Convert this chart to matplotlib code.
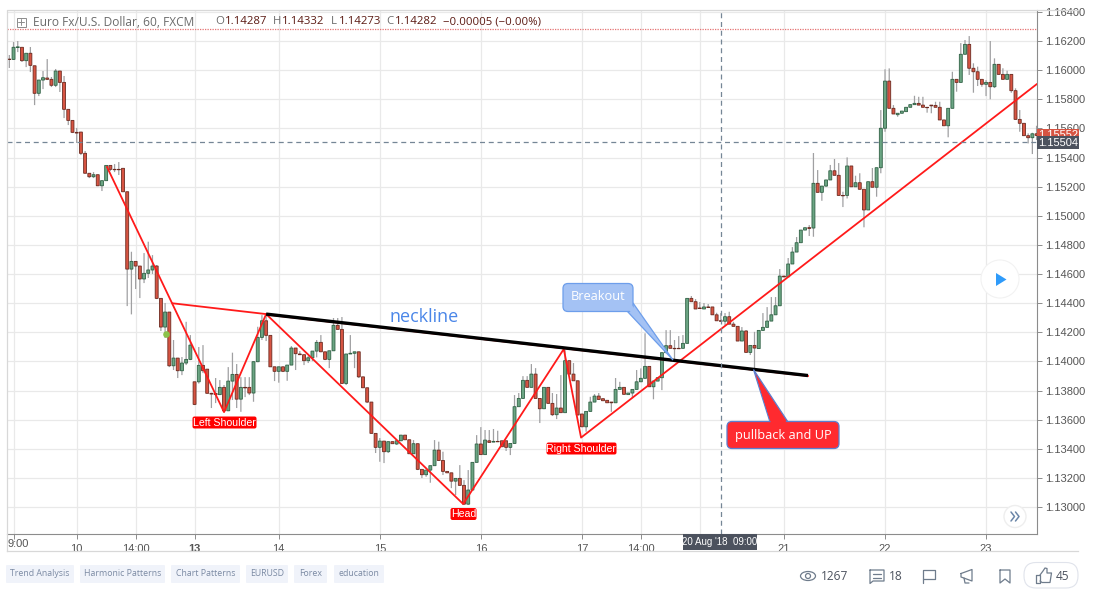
import matplotlib
matplotlib.use("Agg")
import matplotlib.pyplot as plt
from matplotlib.patches import FancyBboxPatch, Polygon, Circle, Rectangle, Ellipse

plt.rcParams['font.family'] = ['Liberation Sans', 'DejaVu Sans']

# hourly candles
opens = [1.16076, 1.16074, 1.16155, 1.16157, 1.16065, 1.16116, 1.16030, 1.15841, 1.15932, 1.15946,
         1.15937, 1.15896, 1.15994, 1.15916, 1.15731, 1.15655, 1.15573, 1.15575, 1.15429, 1.15292,
         1.15268, 1.15282, 1.15206, 1.15241, 1.15346, 1.15319, 1.15319, 1.15326, 1.15165, 1.14634,
         1.14687, 1.14655, 1.14566, 1.14605, 1.14628, 1.14655, 1.14433, 1.14236, 1.14339, 1.13970,
         1.14023, 1.13936, 1.13989, 1.14014, 1.13860, 1.13860, 1.13973, 1.13947, 1.13781, 1.13780,
         1.13772, 1.13822, 1.13661, 1.13865, 1.13911, 1.13741, 1.13822, 1.13822, 1.13783, 1.13998,
         1.14165, 1.14279, 1.14179, 1.13963, 1.13932, 1.13963, 1.13932, 1.13975, 1.14092, 1.14051,
         1.14046, 1.14005, 1.14025, 1.14071, 1.14131, 1.14066, 1.14014, 1.14073, 1.14248, 1.14220,
         1.13849, 1.14051, 1.14056, 1.14066, 1.13894, 1.13819, 1.13721, 1.13506, 1.13410, 1.13453,
         1.13380, 1.13449, 1.13433, 1.13455, 1.13494, 1.13462, 1.13366, 1.13435, 1.13259, 1.13222,
         1.13254, 1.13284, 1.13391, 1.13320, 1.13245, 1.13235, 1.13178, 1.13197, 1.13149, 1.13020,
         1.13117, 1.13307, 1.13433, 1.13360, 1.13455, 1.13446, 1.13451, 1.13455, 1.13455, 1.13410,
         1.13437, 1.13689, 1.13746, 1.13870, 1.13822, 1.13913, 1.13746, 1.13675, 1.13822, 1.13712,
         1.13634, 1.13680, 1.13648, 1.14005, 1.13913, 1.13867, 1.13639, 1.13551, 1.13657, 1.13721,
         1.13762, 1.13744, 1.13733, 1.13721, 1.13716, 1.13808, 1.13822, 1.13772, 1.13783, 1.13808,
         1.13860, 1.13884, 1.13966, 1.13826, 1.13865, 1.13888, 1.14060, 1.14108, 1.14090, 1.14090,
         1.14090, 1.14124, 1.14433, 1.14410, 1.14367, 1.14360, 1.14374, 1.14374, 1.14320, 1.14279,
         1.14276, 1.14307, 1.14256, 1.14241, 1.14140, 1.14209, 1.14062, 1.14110, 1.14088, 1.14213,
         1.14234, 1.14277, 1.14320, 1.14382, 1.14586, 1.14581, 1.14669, 1.14751, 1.14815, 1.14902,
         1.14918, 1.14916, 1.15223, 1.15161, 1.15204, 1.15246, 1.15309, 1.15278, 1.15140, 1.15140,
         1.15342, 1.15199, 1.15227, 1.15182, 1.15040, 1.15234, 1.15196, 1.15330, 1.15601, 1.15925,
         1.15738, 1.15694, 1.15704, 1.15715, 1.15745, 1.15763, 1.15772, 1.15760, 1.15745, 1.15760,
         1.15758, 1.15745, 1.15658, 1.15618, 1.15738, 1.15937, 1.15916, 1.16109, 1.16177, 1.16013,
         1.15989, 1.15937, 1.15903, 1.15916, 1.15886, 1.16040, 1.15971, 1.15937, 1.15971, 1.15859,
         1.15662, 1.15635, 1.15550, 1.15536, 1.15563]
highs = [1.16104, 1.16193, 1.16200, 1.16157, 1.16116, 1.16159, 1.16030, 1.15932, 1.15994, 1.16076,
         1.15953, 1.16008, 1.15994, 1.15960, 1.15731, 1.15655, 1.15603, 1.15575, 1.15445, 1.15292,
         1.15300, 1.15282, 1.15241, 1.15346, 1.15346, 1.15355, 1.15369, 1.15326, 1.15165, 1.14753,
         1.14687, 1.14655, 1.14744, 1.14822, 1.14730, 1.14662, 1.14433, 1.14401, 1.14339, 1.14147,
         1.14023, 1.14030, 1.14272, 1.14181, 1.13860, 1.14099, 1.14112, 1.13947, 1.13785, 1.13886,
         1.13872, 1.13838, 1.13961, 1.14060, 1.13982, 1.13892, 1.13892, 1.13892, 1.14002, 1.14238,
         1.14318, 1.14332, 1.14179, 1.13963, 1.13963, 1.13963, 1.13975, 1.14105, 1.14092, 1.14071,
         1.14046, 1.14037, 1.14071, 1.14147, 1.14181, 1.14066, 1.14073, 1.14298, 1.14298, 1.14305,
         1.14051, 1.14181, 1.14066, 1.14066, 1.13894, 1.13819, 1.13721, 1.13506, 1.13474, 1.13453,
         1.13449, 1.13449, 1.13455, 1.13494, 1.13494, 1.13462, 1.13460, 1.13435, 1.13259, 1.13254,
         1.13284, 1.13460, 1.13449, 1.13380, 1.13245, 1.13235, 1.13197, 1.13288, 1.13185, 1.13254,
         1.13307, 1.13494, 1.13549, 1.13529, 1.13529, 1.13536, 1.13524, 1.13455, 1.13455, 1.13437,
         1.13769, 1.13783, 1.13899, 1.13899, 1.13982, 1.13954, 1.13746, 1.13822, 1.13822, 1.13783,
         1.13776, 1.13906, 1.14078, 1.14005, 1.13989, 1.13867, 1.13639, 1.13657, 1.13757, 1.13776,
         1.13783, 1.13744, 1.13733, 1.13721, 1.13886, 1.13860, 1.13822, 1.13783, 1.13808, 1.13941,
         1.13952, 1.14193, 1.13966, 1.13865, 1.13888, 1.14060, 1.14215, 1.14215, 1.14147, 1.14174,
         1.14181, 1.14433, 1.14449, 1.14428, 1.14408, 1.14401, 1.14394, 1.14374, 1.14334, 1.14332,
         1.14332, 1.14341, 1.14272, 1.14241, 1.14236, 1.14215, 1.14110, 1.14203, 1.14213, 1.14332,
         1.14373, 1.14442, 1.14442, 1.14634, 1.14586, 1.14710, 1.14785, 1.14854, 1.14902, 1.14918,
         1.14936, 1.15431, 1.15314, 1.15204, 1.15246, 1.15349, 1.15390, 1.15362, 1.15165, 1.15401,
         1.15342, 1.15275, 1.15292, 1.15182, 1.15234, 1.15328, 1.15330, 1.15726, 1.16006, 1.16012,
         1.15760, 1.15704, 1.15719, 1.15745, 1.15763, 1.15824, 1.15817, 1.15817, 1.15745, 1.15760,
         1.15783, 1.15783, 1.15658, 1.15738, 1.15989, 1.15937, 1.16186, 1.16207, 1.16234, 1.16047,
         1.16024, 1.15937, 1.15932, 1.16200, 1.16081, 1.16040, 1.16013, 1.15996, 1.15971, 1.15875,
         1.15726, 1.15635, 1.15566, 1.15570, 1.15618]
lows = [1.16015, 1.16070, 1.16124, 1.16056, 1.16021, 1.15987, 1.15760, 1.15822, 1.15870, 1.15932,
        1.15884, 1.15884, 1.15850, 1.15671, 1.15623, 1.15568, 1.15500, 1.15417, 1.15292, 1.15259,
        1.15259, 1.15204, 1.15170, 1.15241, 1.15307, 1.15300, 1.15280, 1.15163, 1.14380, 1.14323,
        1.14497, 1.14435, 1.14538, 1.14573, 1.14600, 1.14428, 1.14209, 1.14161, 1.13961, 1.13941,
        1.13886, 1.13906, 1.13975, 1.14009, 1.13700, 1.13848, 1.13920, 1.13781, 1.13680, 1.13714,
        1.13769, 1.13652, 1.13659, 1.13735, 1.13680, 1.13654, 1.13755, 1.13769, 1.13723, 1.13995,
        1.14147, 1.14140, 1.13963, 1.13865, 1.13854, 1.13927, 1.13867, 1.13975, 1.13941, 1.14046,
        1.13975, 1.13989, 1.14002, 1.14028, 1.14066, 1.14009, 1.13954, 1.14073, 1.14220, 1.13849,
        1.13838, 1.14051, 1.13954, 1.13886, 1.13819, 1.13714, 1.13506, 1.13371, 1.13311, 1.13302,
        1.13371, 1.13435, 1.13426, 1.13455, 1.13462, 1.13366, 1.13366, 1.13254, 1.13199, 1.13208,
        1.13167, 1.13284, 1.13320, 1.13220, 1.13235, 1.13130, 1.13082, 1.13149, 1.13014, 1.13014,
        1.13117, 1.13307, 1.13360, 1.13360, 1.13444, 1.13446, 1.13448, 1.13414, 1.13385, 1.13357,
        1.13437, 1.13689, 1.13746, 1.13822, 1.13822, 1.13746, 1.13577, 1.13675, 1.13712, 1.13625,
        1.13604, 1.13648, 1.13648, 1.13913, 1.13867, 1.13632, 1.13551, 1.13517, 1.13657, 1.13721,
        1.13739, 1.13730, 1.13716, 1.13654, 1.13716, 1.13808, 1.13774, 1.13772, 1.13748, 1.13808,
        1.13860, 1.13884, 1.13826, 1.13740, 1.13865, 1.13803, 1.14060, 1.14090, 1.14009, 1.14087,
        1.14090, 1.14124, 1.14410, 1.14360, 1.14363, 1.14360, 1.14371, 1.14320, 1.14279, 1.14276,
        1.14250, 1.14256, 1.14241, 1.14140, 1.14140, 1.14062, 1.14044, 1.13947, 1.14088, 1.14213,
        1.14234, 1.14277, 1.14320, 1.14382, 1.14580, 1.14581, 1.14669, 1.14751, 1.14815, 1.14902,
        1.14861, 1.14856, 1.15161, 1.15103, 1.15199, 1.15246, 1.15278, 1.15140, 1.15060, 1.15119,
        1.15199, 1.15199, 1.15182, 1.14921, 1.15040, 1.15196, 1.15131, 1.15292, 1.15577, 1.15738,
        1.15699, 1.15680, 1.15704, 1.15715, 1.15745, 1.15763, 1.15760, 1.15745, 1.15708, 1.15704,
        1.15745, 1.15658, 1.15618, 1.15539, 1.15738, 1.15852, 1.15916, 1.16109, 1.15967, 1.15845,
        1.15891, 1.15886, 1.15822, 1.15800, 1.15877, 1.15971, 1.15937, 1.15937, 1.15845, 1.15662,
        1.15577, 1.15550, 1.15497, 1.15424, 1.15520]
closes = [1.16073, 1.16157, 1.16160, 1.16065, 1.16116, 1.16033, 1.15841, 1.15932, 1.15948, 1.15937,
          1.15896, 1.15994, 1.15916, 1.15731, 1.15655, 1.15573, 1.15568, 1.15429, 1.15292, 1.15268,
          1.15282, 1.15206, 1.15241, 1.15346, 1.15319, 1.15316, 1.15316, 1.15165, 1.14634, 1.14687,
          1.14655, 1.14566, 1.14605, 1.14628, 1.14655, 1.14433, 1.14236, 1.14339, 1.13970, 1.14023,
          1.13936, 1.13989, 1.14014, 1.14112, 1.13705, 1.13973, 1.13936, 1.13781, 1.13776, 1.13772,
          1.13822, 1.13661, 1.13865, 1.13911, 1.13741, 1.13822, 1.13818, 1.13783, 1.13998, 1.14165,
          1.14279, 1.14179, 1.13963, 1.13932, 1.13963, 1.13932, 1.13975, 1.14092, 1.14053, 1.14046,
          1.14005, 1.14025, 1.14071, 1.14131, 1.14066, 1.14014, 1.14073, 1.14248, 1.14220, 1.13849,
          1.14051, 1.14056, 1.14066, 1.13894, 1.13819, 1.13721, 1.13506, 1.13410, 1.13453, 1.13380,
          1.13449, 1.13435, 1.13455, 1.13494, 1.13462, 1.13366, 1.13435, 1.13259, 1.13222, 1.13254,
          1.13284, 1.13391, 1.13320, 1.13245, 1.13235, 1.13178, 1.13197, 1.13149, 1.13020, 1.13117,
          1.13307, 1.13433, 1.13360, 1.13460, 1.13444, 1.13451, 1.13448, 1.13414, 1.13410, 1.13437,
          1.13689, 1.13746, 1.13870, 1.13822, 1.13913, 1.13746, 1.13675, 1.13822, 1.13712, 1.13634,
          1.13680, 1.13648, 1.14005, 1.13913, 1.13867, 1.13632, 1.13551, 1.13657, 1.13721, 1.13762,
          1.13739, 1.13730, 1.13716, 1.13716, 1.13808, 1.13822, 1.13774, 1.13783, 1.13808, 1.13860,
          1.13884, 1.13966, 1.13826, 1.13865, 1.13888, 1.14060, 1.14108, 1.14090, 1.14087, 1.14087,
          1.14124, 1.14433, 1.14410, 1.14360, 1.14363, 1.14374, 1.14371, 1.14320, 1.14279, 1.14276,
          1.14307, 1.14256, 1.14241, 1.14140, 1.14209, 1.14062, 1.14110, 1.14092, 1.14213, 1.14234,
          1.14277, 1.14320, 1.14382, 1.14586, 1.14580, 1.14669, 1.14751, 1.14815, 1.14902, 1.14918,
          1.14914, 1.15223, 1.15161, 1.15204, 1.15246, 1.15309, 1.15278, 1.15140, 1.15137, 1.15342,
          1.15199, 1.15227, 1.15182, 1.15040, 1.15234, 1.15196, 1.15330, 1.15601, 1.15925, 1.15738,
          1.15699, 1.15704, 1.15719, 1.15745, 1.15763, 1.15772, 1.15760, 1.15745, 1.15742, 1.15755,
          1.15745, 1.15658, 1.15618, 1.15738, 1.15937, 1.15916, 1.16109, 1.16177, 1.16013, 1.15989,
          1.15937, 1.15903, 1.15916, 1.15886, 1.16040, 1.15971, 1.15937, 1.15971, 1.15859, 1.15662,
          1.15635, 1.15550, 1.15536, 1.15563, 1.15552]

# pattern lines, bar index and price
pattern_x = [23.2, 51.0, 61.0, 107.8, 131.7, 135.8, 244.0]
pattern_y = [1.15335, 1.13652, 1.14325, 1.13021, 1.14085, 1.13477, 1.15903]
left_neck_x = [38.8, 61.0]
left_neck_y = [1.14399, 1.14325]
neck_x = [61.0, 189.7]
neck_y = [1.14325, 1.13903]

price_ticks = [1.130, 1.132, 1.134, 1.136, 1.138, 1.140, 1.142, 1.144, 1.146, 1.148,
               1.150, 1.152, 1.154, 1.156, 1.158, 1.160, 1.162, 1.164]
time_ticks = [1, 16, 30, 44, 64, 88, 112, 136, 150, 164, 184, 208, 232]
time_labels = ['', '10', '14:00', '13', '14', '15', '16', '17', '14:00', '', '21', '22', '23']
last_price = 1.15552
cursor_price = 1.15504
cursor_bar = 169
high_price = 1.16282
tags = ['Trend Analysis', 'Harmonic Patterns', 'Chart Patterns', 'EURUSD', 'Forex', 'education']
tag_edges = [(6, 74), (80, 165), (171, 240), (246, 288), (294, 327), (334, 384)]

UP, DOWN = '#6ba583', '#d75442'
UP_EDGE, DOWN_EDGE = '#2f6044', '#6b2a20'
W, H = 1095, 594

fig = plt.figure(figsize=(W / 100, H / 100), dpi=100)
ax = fig.add_axes([7 / W, (H - 534) / H, 1030 / W, 524 / H])
ax.set_xlim(-0.553, 244.1)
ax.set_ylim(1.12815, 1.16413)
ax.set_axisbelow(True)
ax.grid(color='#e9e9e9', lw=0.9)
for s in ['top', 'left']:
    ax.spines[s].set_visible(False)
ax.spines['right'].set_color('#8c8c8c')
ax.spines['bottom'].set_color('#8c8c8c')

ax.yaxis.tick_right()
ax.set_yticks(price_ticks)
ax.set_yticklabels(['%.5f' % p for p in price_ticks])
ax.set_xticks(time_ticks)
ax.set_xticklabels(time_labels)
ax.tick_params(axis='both', labelsize=8, labelcolor='#555555', color='#8c8c8c', length=3.5, width=0.7, pad=2.5)
ax.tick_params(axis='x', pad=3.5)
ax.get_xticklabels()[3].set_fontweight('bold')

# candles
x = list(range(len(opens)))
body_low = [min(o, c) for o, c in zip(opens, closes)]
body_h = [max(abs(c - o), 0.00002) for o, c in zip(opens, closes)]
fills = [UP if c >= o else DOWN for o, c in zip(opens, closes)]
edges = [UP_EDGE if c >= o else DOWN_EDGE for o, c in zip(opens, closes)]
wicks = ax.vlines(x, lows, highs, color='#a0a0a2', lw=0.9, zorder=2)
wicks.set_snap(False)
bars = ax.bar(x, body_h, bottom=body_low, width=0.7, color=fills, edgecolor=edges, lw=0.6, zorder=3)
for b in bars:
    b.set_snap(False)

# pattern drawing
ax.plot(pattern_x, pattern_y, color='#ff1a1a', lw=1.3, zorder=4)
ax.plot(left_neck_x, left_neck_y, color='#ff1a1a', lw=1.3, zorder=4)
ax.plot(neck_x, [p - 0.00003 for p in neck_y], color='#ff1a1a', lw=1.3, zorder=4)
ax.plot(neck_x, neck_y, color='black', lw=2.4, zorder=5, solid_capstyle='butt')
ax.scatter([37.1], [1.14186], s=14, color='#8bc34a', zorder=4)

ax.axhline(high_price, color='#e57373', lw=0.9, ls=(0, (1, 1)), zorder=1)
ax.axhline(cursor_price, color='#758696', lw=0.9, ls=(0, (4, 3)), zorder=6)
ax.axvline(cursor_bar, color='#758696', lw=0.9, ls=(0, (4, 3)), zorder=6)

# overlay in pixels for all the page furniture
ui = fig.add_axes([0, 0, 1, 1], zorder=10)
ui.set_xlim(0, W)
ui.set_ylim(H, 0)
ui.axis('off')
ui.patch.set_alpha(0)


def box(x0, y0, x1, y1, fc, ec='none', r=2, lw=0.8, z=3):
    ui.add_patch(FancyBboxPatch((x0 + r, y0 + r), x1 - x0 - 2 * r, y1 - y0 - 2 * r,
                                boxstyle='round,pad=%g,rounding_size=%g' % (r, r),
                                fc=fc, ec=ec, lw=lw, zorder=z))


def line(xs, ys, c='#6f7c8c', lw=0.9):
    ui.plot(xs, ys, color=c, lw=lw, solid_capstyle='round', zorder=4)


# frame
ui.plot([7, 7, 1078], [550.5, 10, 10], color='#d8d8d8', lw=0.9)
ui.plot([7, 1078], [550.5, 550.5], color='#d8d8d8', lw=0.9)
ui.text(7, 544, '9:00', fontsize=8, color='#555555', ha='left', va='center')

# header
head = {'family': ['Open Sans', 'DejaVu Sans'], 'fontsize': 8.6, 'va': 'center'}
ui.add_patch(Rectangle((16.5, 17.5), 9, 9, fc='white', ec='#8c8c8c', lw=0.7))
line([18, 24], [22, 22], '#8c8c8c', 0.7)
line([21, 21], [19, 25], '#8c8c8c', 0.7)
ui.text(33, 22, 'Euro Fx/U.S. Dollar, 60, FXCM', color='#6b6b6b', **head)
head['fontsize'] = 8.2
for lx, vx, lab, val in [(215, 224.5, 'O', '1.14287'), (273, 282, 'H', '1.14332'),
                         (331, 339, 'L', '1.14273'), (386, 394.5, 'C', '1.14282')]:
    ui.text(lx, 22, lab, color='#6b6b6b', **head)
    ui.text(vx, 22, val, color='#5b1a13', **head)
ui.text(443, 22, '\u22120.00005 (\u22120.00%)', color='#5b1a13', **head)

# price tags on the axis
ui.add_patch(Rectangle((1037, 129), 42, 12, fc=DOWN, ec='none', zorder=3))
ui.text(1058, 134.5, '1.15552', color='white', fontsize=8, ha='center', va='center', zorder=4)
ui.add_patch(Rectangle((1037, 136), 42, 13, fc='#4c525e', ec='none', zorder=5))
ui.text(1058, 142.5, '1.15504', color='white', fontsize=8, ha='center', va='center', zorder=6)

# date tag
ui.add_patch(Rectangle((683, 534), 74, 16, fc='#4c525e', ec='none', zorder=5))
ui.text(720, 542, "20 Aug '18  09:00", color='white', fontsize=7, ha='center', va='center', zorder=6)

# small labels
for cx, cy, hw, t in [(224.5, 422.5, 32, 'Left Shoulder'), (463.5, 514, 13, 'Head'), (581.5, 448.5, 35, 'Right Shoulder')]:
    box(cx - hw, cy - 6, cx + hw, cy + 6, '#ff0000', r=2)
    ui.text(cx, cy + 0.3, t, color='white', fontsize=7.6, ha='center', va='center', zorder=5)

ui.text(424, 316.5, 'neckline', family=['Open Sans', 'DejaVu Sans'], color='#4a86e8', fontsize=13, ha='center', va='center')

# callouts
ui.add_patch(Polygon([(627, 311), (673, 360), (633, 303)], fc='#a4c2f4', ec='#6d9eeb', lw=0.9, zorder=3))
box(563, 283.5, 633, 311.5, '#a4c2f4', ec='#6d9eeb', r=5, lw=0.9)
ui.add_patch(Polygon([(628, 309), (667, 352), (631, 304)], fc='#a4c2f4', ec='none', zorder=4))
ui.text(598, 297, 'Breakout', family=['Open Sans', 'DejaVu Sans'], color='white', fontsize=9.2, ha='center', va='center', zorder=5)

ui.add_patch(Polygon([(770, 422), (753.5, 369.5), (788, 422)], fc='#ff2a2f', ec='#5b7fd0', lw=0.9, zorder=3))
box(727, 421.5, 839, 448.5, '#ff2a2f', ec='#5b7fd0', r=5, lw=0.9)
ui.add_patch(Polygon([(771, 423), (759, 385), (787, 423)], fc='#ff2a2f', ec='none', zorder=4))
ui.text(783, 435, 'pullback and UP', family=['Open Sans', 'DejaVu Sans'], color='white', fontsize=9.2, ha='center', va='center', zorder=5)

# round buttons
ui.add_patch(Circle((1000, 279), 19, fc='white', ec='#f2f2f2', lw=0.8, zorder=3))
ui.add_patch(Polygon([(996, 273), (1006.5, 279.5), (996, 286)], fc='#2f9bfa', ec='none', zorder=4))
ui.add_patch(Circle((1015, 516.5), 11, fc='white', ec='#eeeeee', lw=1, zorder=3))
line([1011, 1014.5, 1011], [512, 516.5, 521], '#6b86a8', 1.1)
line([1015.5, 1019, 1015.5], [512, 516.5, 521], '#6b86a8', 1.1)

# tags under the chart
for t, (x0, x1) in zip(tags, tag_edges):
    box(x0, 565, x1, 583, '#f0f3fa', r=1)
    ui.text((x0 + x1) / 2, 574, t, family=['Open Sans', 'DejaVu Sans'], color='#7b8aa3', fontsize=6.3, ha='center', va='center', zorder=5)

# social row
ui.add_patch(Ellipse((808, 576), 15, 9, fc='none', ec='#6f7c8c', lw=0.9))
ui.add_patch(Circle((808, 576), 2.5, fc='none', ec='#6f7c8c', lw=0.9))
stat = {'family': ['Open Sans', 'DejaVu Sans'], 'fontsize': 8.6, 'color': '#4c525e', 'va': 'center'}
ui.text(820.5, 576.5, '1267', **stat)
line([870, 884, 884, 873, 870, 870], [570, 570, 581, 581, 583.5, 570])
line([873, 881], [574, 574])
line([873, 881], [577.5, 577.5])
ui.text(889, 576.5, '18', **stat)
line([923, 923, 935, 935, 923], [583, 570, 570, 579, 579])
line([961, 972, 972, 961, 961], [573.5, 569.5, 581, 577, 573.5])
line([964, 965, 969], [578, 583, 583])
line([1000, 1000, 1005, 1010, 1010, 1000], [570, 583, 579, 583, 570, 570])
box(1024, 562.5, 1078, 588, 'white', ec='#e0e3eb', r=12)
line([1036, 1036, 1040, 1040, 1036], [575, 582.5, 582.5, 575, 575])
line([1040, 1043, 1045, 1047, 1047, 1051.5, 1050, 1042, 1040], [575, 571, 568, 568.5, 573, 573, 582.5, 582.5, 581])
ui.text(1062, 576.5, '45', ha='center', **stat)

fig.savefig('out.png', dpi=100)
